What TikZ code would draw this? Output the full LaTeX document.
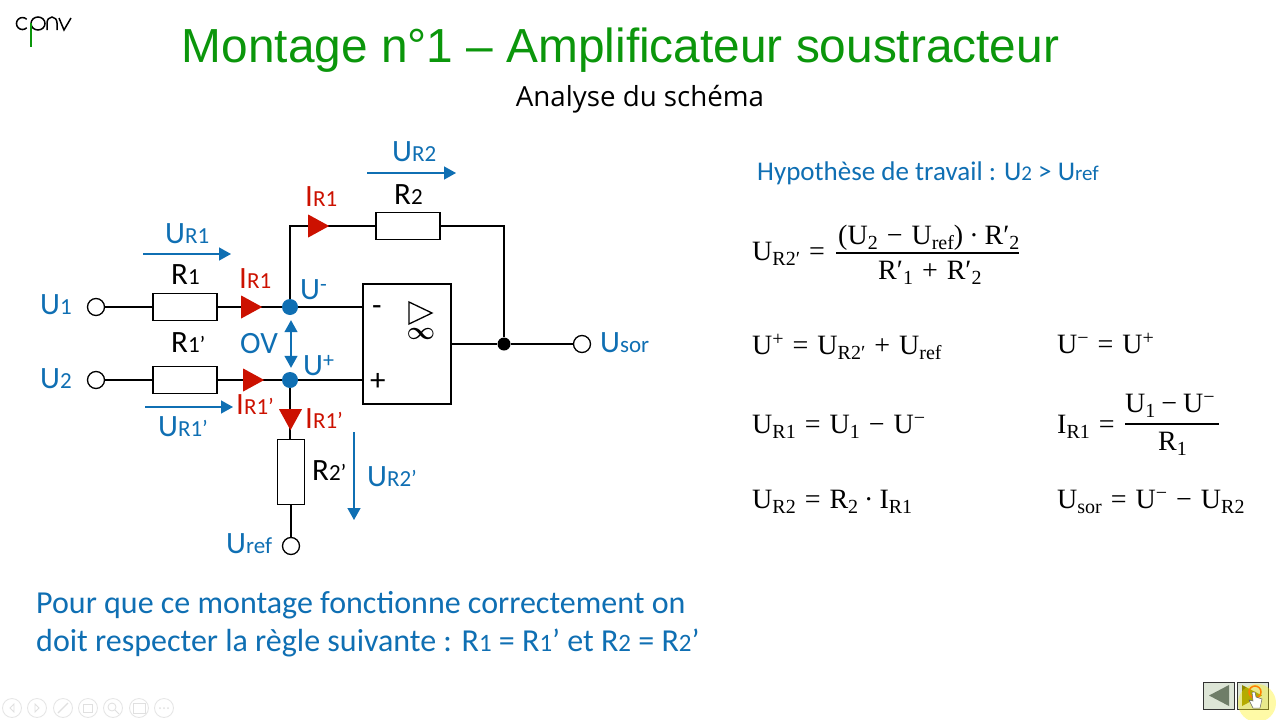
\documentclass[tikz,border=0pt]{standalone}
\usepackage{fontspec}
\setmainfont{Carlito}
\newfontfamily\titlefont{Liberation Sans}
\newfontfamily\subtitlefont{Open Sans}
\newfontfamily\eqfont{Liberation Serif}
\usetikzlibrary{arrows.meta,shapes.geometric}
\definecolor{titlegreen}{HTML}{0B960B}
\definecolor{voltblue}{HTML}{0F6FB3}
\definecolor{currentred}{HTML}{CC1100}
\definecolor{navfill}{HTML}{DDE5D6}
\definecolor{navdark}{HTML}{6F7D68}
\newcommand{\sm}[1]{{\fontsize{23}{23}\selectfont #1}}
\newcommand{\up}[1]{\raisebox{8pt}{\fontsize{22}{22}\selectfont #1}}
\newcommand{\eqsub}[1]{\raisebox{-5pt}{\fontsize{20}{20}\selectfont #1}}
\newcommand{\eqsup}[1]{\raisebox{9pt}{\fontsize{20}{20}\selectfont #1}}
\newcommand{\eqop}[1]{\hspace{9pt}#1\hspace{9pt}}
\newcommand{\eqdot}{\hspace{6pt}·\hspace{6pt}}
\tikzset{
    wire/.style={line width=1.3pt, black},
    resistor/.style={draw, line width=1.3pt, fill=white, minimum width=#1, inner sep=0pt},
    terminal/.style={circle, draw, line width=1.3pt, fill=white, minimum size=17pt, inner sep=0pt},
    bluedot/.style={circle, fill=voltblue, minimum size=16pt, inner sep=0pt},
    blackdot/.style={circle, fill=black, minimum size=13pt, inner sep=0pt},
    currenttip/.style={isosceles triangle, isosceles triangle stretches, fill=currentred, inner sep=0pt, minimum height=21pt, minimum width=23pt, shape border rotate=#1, anchor=lower side},
    voltarrow/.style={line width=1.4pt, voltblue, -{Triangle[length=12pt, width=13pt]}},
    voltlabel/.style={text=voltblue, font=\fontsize{31}{31}\selectfont, inner sep=0pt, anchor=base west},
    currentlabel/.style={text=currentred, font=\fontsize{31}{31}\selectfont, inner sep=0pt, anchor=base west},
    partlabel/.style={text=black, font=\fontsize{31}{31}\selectfont, inner sep=0pt, anchor=base west},
    eqnode/.style={text=black, font=\eqfont\fontsize{28}{28}\selectfont, inner sep=0pt, anchor=base west},
    eqbar/.style={line width=1.3pt, black},
    navbutton/.style={draw=black!80, line width=1pt, fill=navfill, minimum width=31pt, minimum height=27pt, inner sep=0pt},
    faintbutton/.style={circle, draw=black!10, line width=0.8pt, minimum size=19pt, inner sep=0pt},
}
\begin{document}
\begin{tikzpicture}[x=1pt, y=-1pt]
    \useasboundingbox[fill=white] (0,0) rectangle (1280,720);

    % Titres
    \node[text=titlegreen, font=\titlefont\fontsize{47.8}{48}\selectfont, inner sep=0pt, anchor=base] (titre) at (620.5,62) {Montage n°1 – Amplificateur soustracteur};
    \node[text=black, font=\subtitlefont\fontsize{27.7}{28}\selectfont, inner sep=0pt, anchor=base] (soustitre) at (640,106) {Analyse du schéma};

    % Logo
    \draw[line width=1.5pt, black] (26.7,19.3) arc (-45:-315:6);
    \draw[line width=1.5pt, black] (38,23.5) circle (7 and 6.5);
    \draw[line width=1.5pt, titlegreen] (31,23) -- (31,47);
    \draw[line width=1.5pt, black] (47,30) -- (47,23) arc (180:360:5 and 6) -- (57,30);
    \draw[line width=1.5pt, black] (59,18) -- (64,30) -- (71,18);

    % Composants
    \node[terminal] (E1) at (96,307) {};
    \node[terminal] (E2) at (96,380) {};
    \node[terminal] (Eref) at (291,546) {};
    \node[terminal] (Esor) at (582,344) {};
    \node[resistor=64pt, minimum height=27pt] (R1) at (185,307) {};
    \node[resistor=64pt, minimum height=27pt] (R1p) at (185,380) {};
    \node[resistor=64pt, minimum height=27pt] (R2) at (408,226) {};
    \node[resistor=27pt, minimum height=65pt] (R2p) at (291,472) {};
    \node[draw, line width=1.3pt, fill=white, minimum width=88pt, minimum height=120pt, inner sep=0pt] (AOP) at (407,344) {};
    \coordinate (Eminus) at (AOP.west |- 0,307);
    \coordinate (Eplus) at (AOP.west |- 0,380);
    \node[bluedot] (Um) at (290,307) {};
    \node[bluedot] (Up) at (290,380) {};
    \node[blackdot] (Sor) at (504,344) {};
    \coordinate (Coin1) at (Um |- R2);
    \coordinate (Coin2) at (Sor |- R2);

    % Liaisons
    \draw[wire] (E1) -- (R1);
    \draw[wire] (R1) -- (Um);
    \draw[wire] (E2) -- (R1p);
    \draw[wire] (R1p) -- (Up);
    \draw[wire] (Um) -- (Coin1) -- (R2);
    \draw[wire] (R2) -- (Coin2) -- (Sor);
    \draw[wire] (Um) -- (Eminus);
    \draw[wire] (Up) -- (Eplus);
    \draw[wire] (AOP.east |- Sor) -- (Sor);
    \draw[wire] (Sor) -- (Esor);
    \draw[wire] (Up) -- (Up |- R2p.north);
    \draw[wire] (Eref) -- (Eref |- R2p.south);

    % Courants
    \node[currenttip=0] (T1) at (241,307) {};
    \node[currenttip=0] (T2) at (308,226) {};
    \node[currenttip=0] (T3) at (243,380) {};
    \node[currenttip=-90] (T4) at (290.5,409) {};

    % Tensions
    \coordinate (UR1a) at (143,254);
    \coordinate (UR1b) at (231,254);
    \coordinate (UR1pa) at (145,407);
    \coordinate (UR1pb) at (233,407);
    \coordinate (UR2a) at (367,173);
    \coordinate (UR2b) at (456,173);
    \coordinate (UR2pa) at (354,432);
    \coordinate (UR2pb) at (354,520);
    \draw[voltarrow] (UR1a) -- (UR1b);
    \draw[voltarrow] (UR1pa) -- (UR1pb);
    \draw[voltarrow] (UR2a) -- (UR2b);
    \draw[voltarrow] (UR2pa) -- (UR2pb);
    \draw[line width=1.4pt, voltblue, {Triangle[length=12pt, width=13pt]}-{Triangle[length=12pt, width=13pt]}] (Um.south) ++(1,5) -- ([shift={(1,-4)}]Up.north);

    % Textes du schema
    \node[voltlabel] (lU1) at (40,314) {U\sm{1}};
    \node[voltlabel] (lU2) at (40,388) {U\sm{2}};
    \node[voltlabel] (lUref) at (226,553) {U\sm{ref}};
    \node[voltlabel] (lUsor) at (600,352) {U\sm{sor}};
    \node[voltlabel] (lUm) at (300,299) {U\up{-}};
    \node[voltlabel] (lUp) at (303,375) {U\up{+}};
    \node[voltlabel] (lOV) at (240,353) {OV};
    \node[voltlabel] (lUR1) at (165,243) {U\sm{R1}};
    \node[voltlabel] (lUR1p) at (158,436) {U\sm{R1’}};
    \node[voltlabel] (lUR2) at (392,161) {U\sm{R2}};
    \node[voltlabel] (lUR2p) at (367,486) {U\sm{R2’}};
    \node[partlabel] (lR1) at (171,284) {R\sm{1}};
    \node[partlabel] (lR1p) at (171,352) {R\sm{1’}};
    \node[partlabel] (lR2) at (394,204) {R\sm{2}};
    \node[partlabel] (lR2p) at (312,480) {R\sm{2’}};
    \node[currentlabel] (lI1) at (239,288) {I\sm{R1}};
    \node[currentlabel] (lI2) at (305,206) {I\sm{R1}};
    \node[currentlabel] (lI3) at (236,414) {I\sm{R1’}};
    \node[currentlabel] (lI4) at (305,428) {I\sm{R1’}};
    \node[partlabel] (lmoins) at (372,315) {-};
    \node[partlabel] (lplus) at (370,390) {+};

    % Symbole AOP
    \draw[line width=1.3pt] (409,302) -- (432,313) -- (409,324) -- cycle;
    \node[text=black, inner sep=0pt, font=\fontsize{33}{33}\selectfont\boldmath] (infini) at (421,334) {$\infty$};

    % Texte et equations
    \node[text=voltblue, font=\fontsize{27}{27}\selectfont, inner sep=0pt, anchor=base west] (hyp) at (757,180) {Hypothèse de travail : U{\fontsize{21}{21}\selectfont 2} > U{\fontsize{21}{21}\selectfont ref}};
    \node[text=voltblue, font=\fontsize{32}{32}\selectfont, inner sep=0pt, anchor=base west] (regle1) at (36,613) {Pour que ce montage fonctionne correctement on};
    \node[text=voltblue, font=\fontsize{32}{32}\selectfont, inner sep=0pt, anchor=base west] (regle2) at (36,651) {doit respecter la règle suivante : R{\fontsize{25}{25}\selectfont 1} = R{\fontsize{25}{25}\selectfont 1}’ et R{\fontsize{25}{25}\selectfont 2} = R{\fontsize{25}{25}\selectfont 2}’};

    \node[eqnode] (eq1) at (752,260) {U\eqsub{R2′}\eqop{=}};
    \node[eqnode] (eq1n) at (838,244) {(U\eqsub{2}\eqop{−}U\eqsub{ref})\eqdot R′\eqsub{2}};
    \node[eqnode] (eq1d) at (878,279) {R′\eqsub{1}\eqop{+}R′\eqsub{2}};
    \draw[eqbar] (836,253) -- (1019,253);
    \node[eqnode] (eq2) at (752,354) {U\eqsup{+}\eqop{=}U\eqsub{R2′}\eqop{+}U\eqsub{ref}};
    \node[eqnode] (eq3) at (1057,353) {U\eqsup{−}\eqop{=}U\eqsup{+}};
    \node[eqnode] (eq4) at (752,433) {U\eqsub{R1}\eqop{=}U\eqsub{1}\eqop{−}U\eqsup{−}};
    \node[eqnode] (eq5) at (1057,433) {I\eqsub{R1}\eqop{=}};
    \node[eqnode] (eq5n) at (1125,412) {U\eqsub{1}\hspace{6pt}−\hspace{6pt}U\eqsup{−}};
    \node[eqnode] (eq5d) at (1158,450) {R\eqsub{1}};
    \draw[eqbar] (1125,424) -- (1219,424);
    \node[eqnode] (eq6) at (752,508) {U\eqsub{R2}\eqop{=}R\eqsub{2}\eqdot I\eqsub{R1}};
    \node[eqnode] (eq7) at (1057,508) {U\eqsub{sor}\eqop{=}U\eqsup{−}\eqop{−}U\eqsub{R2}};

    % Boutons de navigation
    \node[navbutton] (prec) at (1218.5,695.5) {};
    \node[navbutton] (suiv) at (1252.5,695.5) {};
    \fill[navdark] (1229,685) -- (1229,706) -- (1209,695.5) -- cycle;
    \fill[olive] (1242,685) -- (1242,706) -- (1262,695.5) -- cycle;
    \fill[yellow, opacity=0.35] (1257,703) circle (19);
    \draw[orange, line width=1.5pt] (1255,692) circle (6);
    \fill[white, draw=black!60, line width=0.5pt] (1252,692) -- (1255,692) -- (1256,697) -- (1262,699) -- (1260,708) -- (1253,708) -- (1249,700) -- (1253,701) -- cycle;

    % Boutons de lecture
    \foreach \xb/\nb in {12/a,37/b,63/c,88/d,113/e,139/f,164/g}
        \node[faintbutton] (bouton\nb) at (\xb,708) {};
    \draw[black!12, line width=0.8pt] (14,704) -- (10,708) -- (14,712) -- cycle;
    \draw[black!12, line width=0.8pt] (35,704) -- (39,708) -- (35,712) -- cycle;
    \draw[black!12, line width=1.2pt] (58,713) -- (68,703);
    \draw[black!12, line width=0.8pt] (83,704) rectangle (92,712);
    \draw[black!12, line width=0.8pt] (112,707) circle (4) (115,710) -- (119,714);
    \draw[black!12, line width=0.8pt] (133,703) rectangle (145,713);
    \foreach \xb in {160,164,168}
        \fill[black!12] (\xb,708) circle (1);
\end{tikzpicture}
\end{document}
